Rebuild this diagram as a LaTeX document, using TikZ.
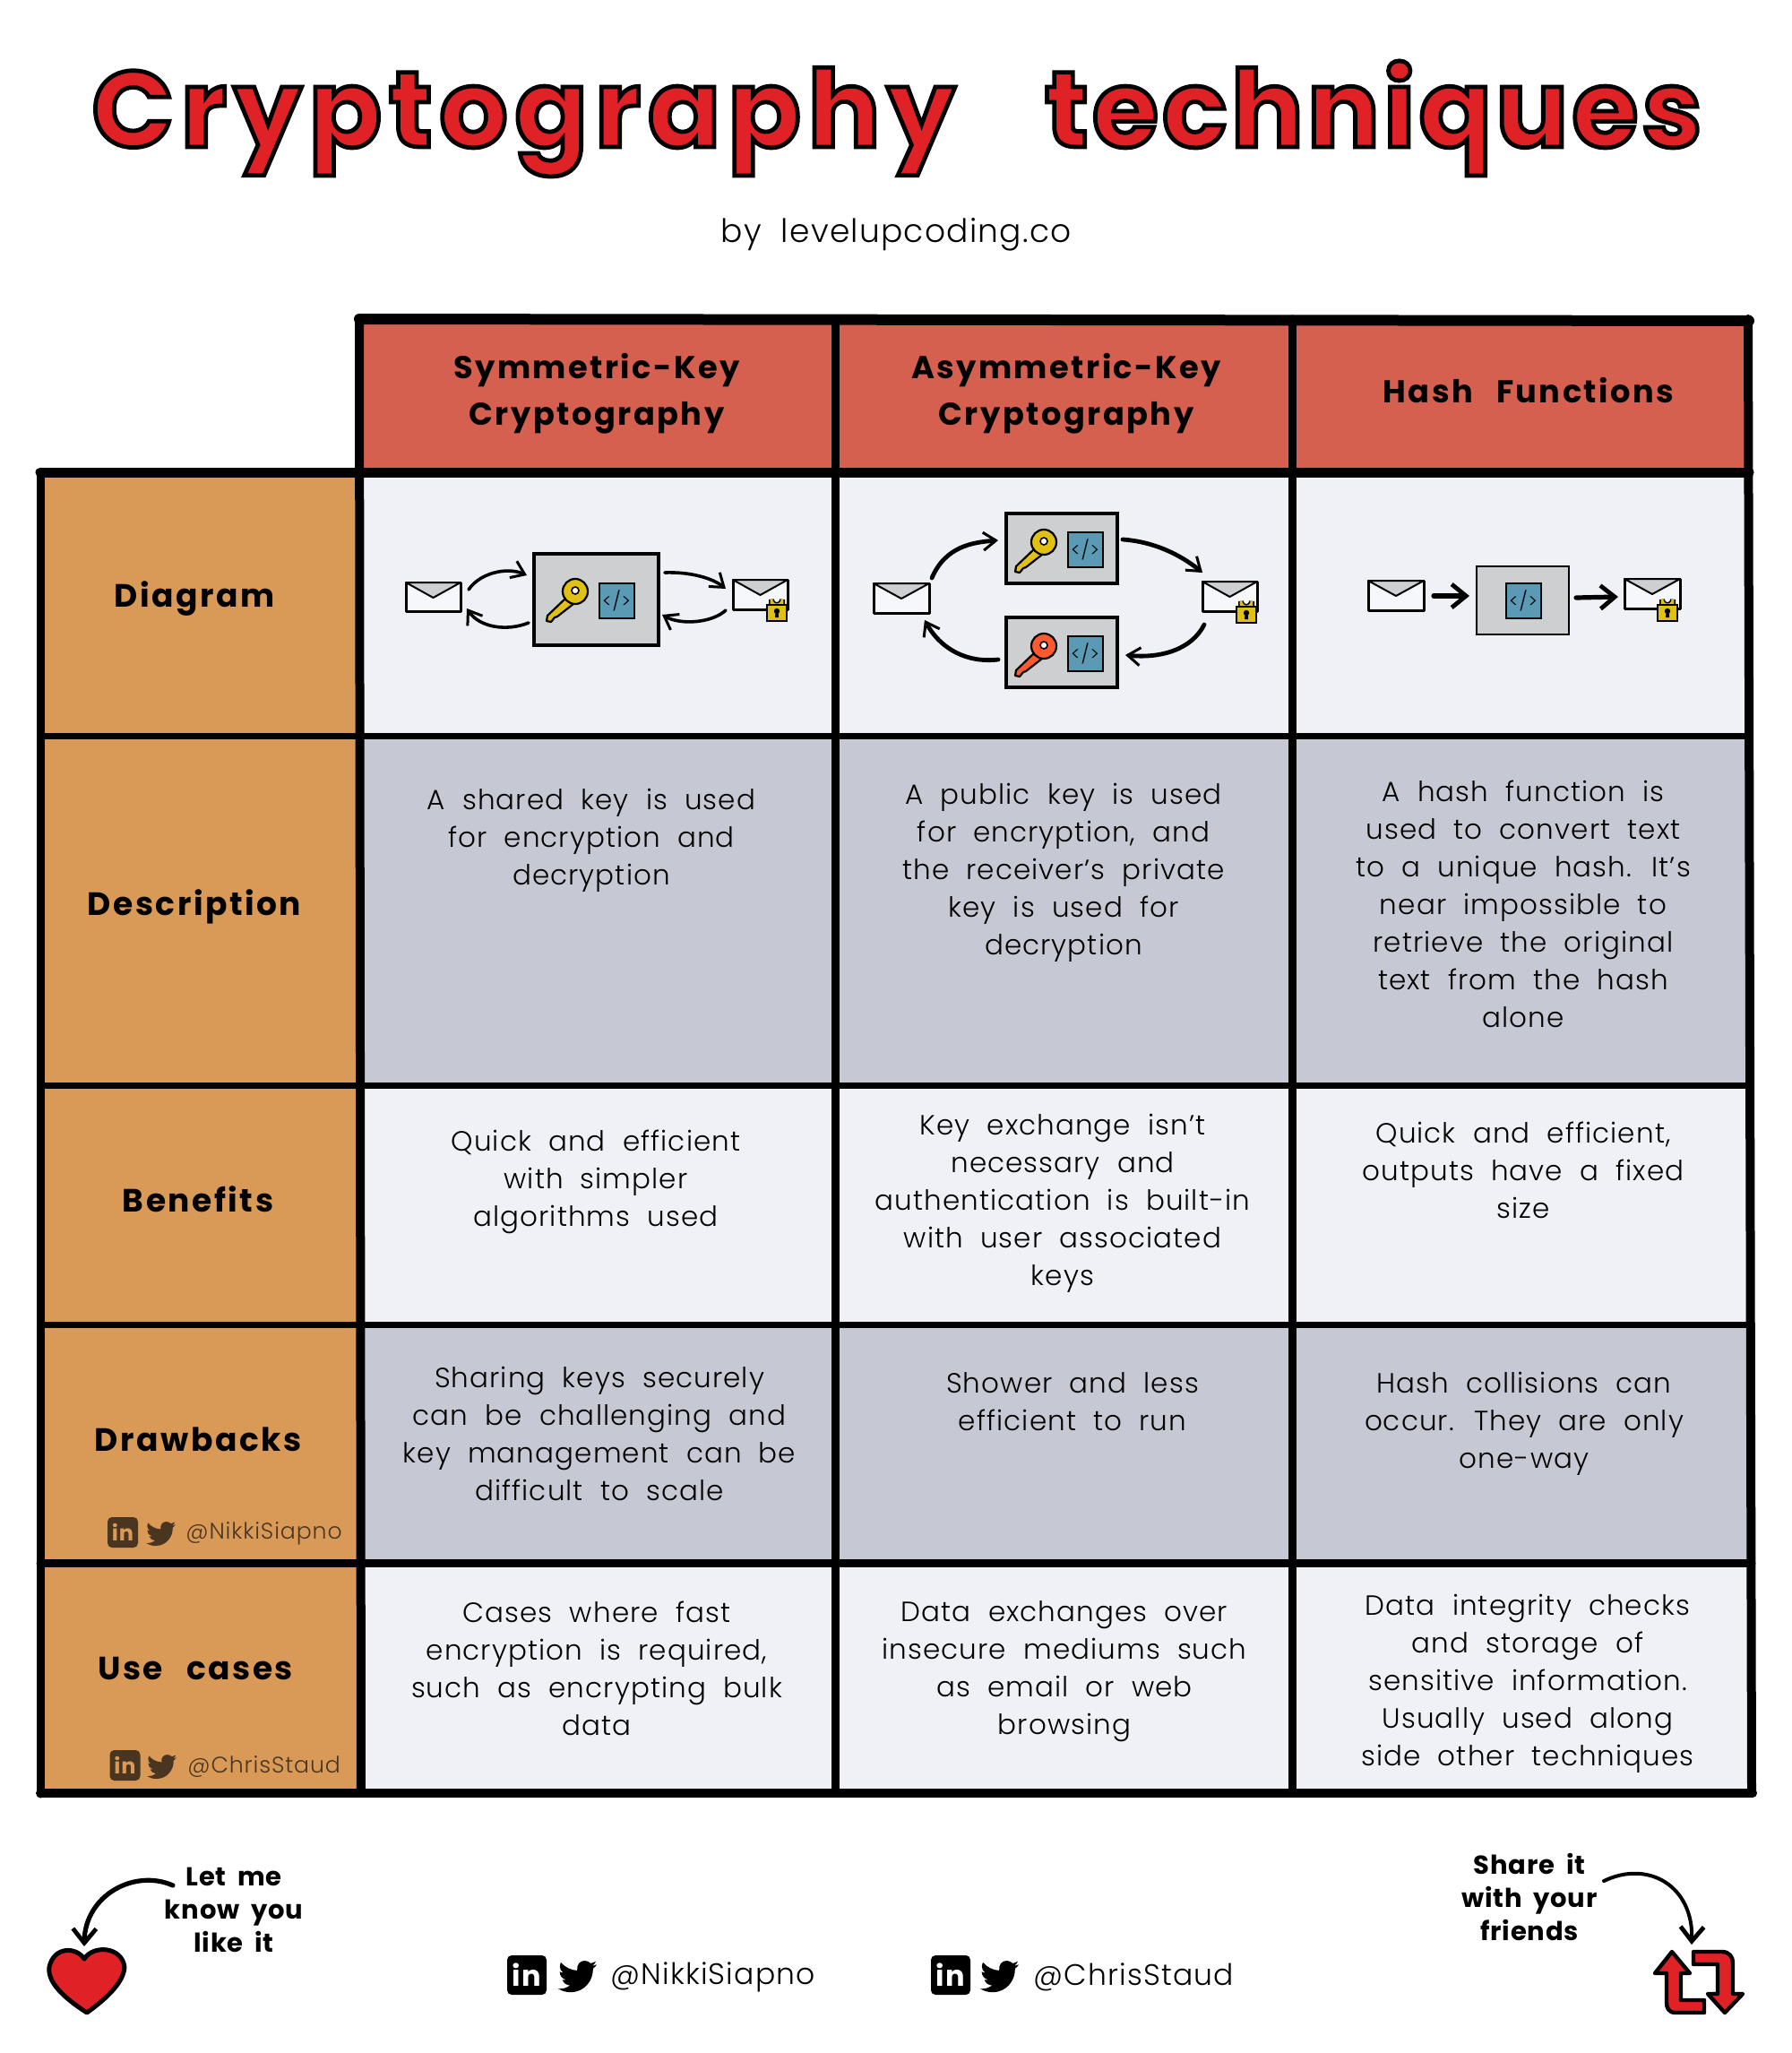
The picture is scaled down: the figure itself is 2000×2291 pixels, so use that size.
\documentclass[tikz,border=0pt]{standalone}
\usepackage{fontspec}
\usetikzlibrary{arrows.meta}
\setmainfont{Poppins}[UprightFont=* Light,BoldFont=* Bold,WordSpace=2,LetterSpace=3.5]
\newfontfamily\headf{Poppins}[UprightFont=* Bold,WordSpace=2.6,LetterSpace=7]
\newfontfamily\footf{Poppins}[UprightFont=* Bold,WordSpace=1.8,LetterSpace=3]
\newfontfamily\titlea{Poppins}[UprightFont=* Bold,FakeBold=4,LetterSpace=6.5]
\newfontfamily\titleb{Poppins}[UprightFont=* Bold,FakeBold=4,LetterSpace=3.5]
\definecolor{hdr}{HTML}{D66050}
\definecolor{side}{HTML}{D99A58}
\definecolor{lite}{HTML}{EFF1F7}
\definecolor{dark}{HTML}{C6C9D3}
\definecolor{boxg}{HTML}{CDCFD1}
\definecolor{scr}{HTML}{5A9AB5}
\definecolor{ylw}{HTML}{E0C010}
\definecolor{redd}{HTML}{E02226}
\definecolor{orng}{HTML}{FF5A2D}
\definecolor{brwn}{HTML}{4A3620}
\definecolor{envw}{HTML}{F6F7FB}
\tikzset{
  x=0.5pt,y=-0.5pt,
  body/.style={font=\fontsize{15.5}{21}\selectfont,align=center,inner sep=0pt,text=black},
  rowlab/.style={font=\headf\fontsize{18}{21}\selectfont,inner sep=0pt},
  colhd/.style={font=\headf\fontsize{17.6}{26}\selectfont,align=center,inner sep=0pt},
  tiny handle/.style={font=\fontsize{12.6}{14}\selectfont,inner sep=0pt,text=brwn},
  big handle/.style={font=\fontsize{16.5}{20}\selectfont,inner sep=0pt},
  foot/.style={font=\footf\fontsize{14.5}{18.5}\selectfont,align=center,inner sep=0pt},
  grid/.style={draw=black,line cap=round,line join=round},
  hand/.style={draw=black,line cap=round,-{Straight Barb[length=7pt,width=10pt,line width=1.5pt]}},
  hand big/.style={draw=black,line cap=round,line width=2.6pt,-{Straight Barb[length=8pt,width=13pt,line width=2.4pt]}},
  outl/.style={draw=black,line width=1.5pt,line join=round},
}
\newcommand{\envel}[4]{%
  \filldraw[outl,fill=envw] (#1,#2) rectangle ++(#3,#4);
  \filldraw[draw=black,line width=1pt,fill=boxg,line join=round] (#1,#2) -- ++(#3,0) -- ++(-#3/2,17) -- cycle;}
\newcommand{\padlock}[2]{%
  \draw[draw=black,line width=3pt] (#1-6,#2+13) -- (#1-6,#2+6) arc[start angle=180,end angle=0,radius=6] -- (#1+6,#2+13);
  \draw[draw=ylw,line width=1.4pt] (#1-6,#2+13) -- (#1-6,#2+6) arc[start angle=180,end angle=0,radius=6] -- (#1+6,#2+13);
  \filldraw[draw=black,line width=.8pt,fill=ylw] (#1-11,#2+12) rectangle (#1+11,#2+30);
  \fill[black] (#1,#2+19) circle[radius=3.2] (#1-1.5,#2+19) -- (#1+1.5,#2+19) -- (#1+2,#2+26) -- (#1-2,#2+26) -- cycle;}
\newcommand{\keyicon}[3]{%
  \begin{scope}[shift={(#1,#2)}]
    \filldraw[draw=black,line width=1.1pt,fill=#3,line join=round] (-9,6) -- (-31,27) -- (-32,33) -- (-27,34) -- (-23,29) -- (-20,28) -- (3,10) -- cycle;
    \filldraw[draw=black,line width=1.1pt,fill=#3] (0,0) ellipse[x radius=14,y radius=14];
    \filldraw[draw=black,line width=.8pt,fill=white] (0,-1) circle[radius=4];
  \end{scope}}
\newcommand{\screenicon}[3]{%
  \node[draw=black,line width=1pt,fill=scr,minimum width=19.5pt,minimum height=19.5pt,inner sep=0pt,font=\fontsize{10.5}{12}\selectfont,text=black] (#3) at (#1,#2) {</>};}
\newcommand{\inicon}[7]{%
  \node[fill=#3,rounded corners=2.5pt,minimum width=#6pt,minimum height=#6pt,inner sep=0pt,text=#4,font=\bfseries\fontsize{#7}{#6}\selectfont] (#5) at (#1,#2) {in};}
\newcommand{\bird}[4]{%
  \begin{scope}[shift={(#1,#2)},scale=#3]
    \fill[#4] (23.95,4.57) .. controls (23.1,4.95) and (22.1,5.22) .. (21.13,5.35) .. controls (22.2,4.7) and (22.9,3.7) .. (23.29,2.62) .. controls (22.34,3.18) and (21.29,3.58) .. (20.16,3.81) .. controls (18.3,1.9) and (14.6,1.5) .. (12.8,3.9) .. controls (11.9,5.1) and (11.5,6.8) .. (11.78,8.29) .. controls (7.69,8.095) and (4.067,6.13) .. (1.64,3.162) .. controls (1.22,3.9) and (.974,4.75) .. (.974,5.637) .. controls (.974,7.35) and (1.84,8.85) .. (3.16,9.73) .. controls (2.36,9.7) and (1.6,9.5) .. (.93,9.12) -- (.93,9.18) .. controls (.93,11.5) and (2.6,13.55) .. (4.88,14) .. controls (4.15,14.2) and (3.4,14.23) .. (2.66,14.09) .. controls (3.3,16.1) and (5.15,17.46) .. (7.27,17.5) .. controls (5.55,18.85) and (3.45,19.6) .. (1.17,19.6) .. controls (.78,19.6) and (.39,19.58) .. (0,19.54) .. controls (2.2,20.95) and (4.8,21.75) .. (7.56,21.75) .. controls (16.61,21.75) and (21.55,14.25) .. (21.55,7.76) .. controls (21.55,7.55) and (21.55,7.34) .. (21.54,7.13) .. controls (22.5,6.45) and (23.33,5.58) .. (23.95,4.57) -- cycle;
  \end{scope}}
\begin{document}
\begin{tikzpicture}
\useasboundingbox (0,0) rectangle (2000,2291);
\fill[white] (0,0) rectangle (2000,2291);
% title
\node[inner sep=0pt,anchor=base] (title) at (1001,164) {\fontsize{60}{60}\selectfont
  \color{redd}\special{pdf:code 0 0 0 RG}\titlea Cryptography\hspace{50pt}\titleb techniques};
\node[inner sep=0pt,font=\fontsize{18}{22}\selectfont] (byline) at (1000,262) {by levelupcoding.co};
% cell fills
\fill[hdr] (401,356) rectangle (932,527);
\fill[hdr] (932,356) rectangle (1442,527);
\fill[hdr] (1442,356) rectangle (1951,527);
\fill[side] (45,527) rectangle (402,2001);
\fill[lite] (402,527) rectangle (1953,821);
\fill[dark] (402,821) rectangle (1954,1211);
\fill[lite] (402,1211) rectangle (1954,1478);
\fill[dark] (402,1478) rectangle (1955,1744);
\fill[lite] (402,1744) rectangle (1955,2001);
% grid lines
\draw[grid,line width=6pt] (401,356) -- (1952,358);
\draw[grid,line width=5.5pt] (45,527) -- (1952,527);
\draw[grid,line width=3.5pt] (45,821) -- (1953,821);
\draw[grid,line width=3.5pt] (45,1211) -- (1954,1211);
\draw[grid,line width=3.5pt] (45,1478) -- (1955,1478);
\draw[grid,line width=4.5pt] (45,1744) -- (1955,1744);
\draw[grid,line width=5pt] (45,2001) -- (1956,2001);
\draw[grid,line width=4.5pt] (45,527) -- (45,2002);
\draw[grid,line width=5pt] (401,356) -- (403,2001);
\draw[grid,line width=4.5pt] (932,356) -- (932,2001);
\draw[grid,line width=4.5pt] (1442,356) -- (1442,2001);
\draw[grid,line width=5pt] (1951,356) -- (1955,2001);
% headers
\node[colhd] (h1) at (666,439) {Symmetric-Key\\Cryptography};
\node[colhd] (h2) at (1190,439) {Asymmetric-Key\\Cryptography};
\node[colhd] (h3) at (1706,436) {Hash Functions};
% row labels
\node[rowlab] (r1) at (217,668) {Diagram};
\node[rowlab] (r2) at (217,1012) {Description};
\node[rowlab] (r3) at (221,1338) {Benefits};
\node[rowlab] (r4) at (221,1606) {Drawbacks};
\node[rowlab] (r5) at (218,1862) {Use cases};
% symmetric diagram
\envel{453}{650}{61}{32}
\envel{818}{647}{61}{33}
\padlock{867}{663}
\node[draw=black,line width=1.6pt,fill=boxg,minimum width=69.5pt,minimum height=51pt,inner sep=0pt] (sbox) at (665.5,669) {};
\keyicon{642}{660}{ylw}
\screenicon{688}{670}{sscr}
\coordinate (sa1) at (523,658); \coordinate (sa2) at (588,642);
\coordinate (sb1) at (590,695); \coordinate (sb2) at (521,679);
\coordinate (sc1) at (742,639); \coordinate (sc2) at (810,657);
\coordinate (sd1) at (810,681); \coordinate (sd2) at (739,686);
\draw[hand,line width=1.8pt] (sa1) .. controls (535,640) and (565,632) .. (sa2);
\draw[hand,line width=1.8pt] (sb1) .. controls (565,705) and (535,700) .. (sb2);
\draw[hand,line width=1.8pt] (sc1) .. controls (770,638) and (795,645) .. (sc2);
\draw[hand,line width=1.8pt] (sd1) .. controls (795,695) and (760,698) .. (sd2);
% asymmetric diagram
\envel{975}{651}{62}{33}
\envel{1342}{649}{61}{33}
\padlock{1391}{665}
\node[draw=black,line width=1.6pt,fill=boxg,minimum width=62pt,minimum height=39pt,inner sep=0pt] (abox1) at (1185,612) {};
\node[draw=black,line width=1.6pt,fill=boxg,minimum width=62pt,minimum height=39pt,inner sep=0pt] (abox2) at (1185,728) {};
\keyicon{1165}{605}{ylw}
\keyicon{1165}{721}{orng}
\screenicon{1211}{613}{ascr1}
\screenicon{1211}{729}{ascr2}
\coordinate (aa1) at (1040,645); \coordinate (aa2) at (1114,603);
\coordinate (ab1) at (1253,602); \coordinate (ab2) at (1342,639);
\coordinate (ac1) at (1344,697); \coordinate (ac2) at (1256,731);
\coordinate (ad1) at (1114,736); \coordinate (ad2) at (1032,692);
\draw[hand,line width=2.4pt] (aa1) .. controls (1055,610) and (1085,605) .. (aa2);
\draw[hand,line width=2.4pt] (ab1) .. controls (1295,605) and (1325,625) .. (ab2);
\draw[hand,line width=2.4pt] (ac1) .. controls (1330,725) and (1295,735) .. (ac2);
\draw[hand,line width=2.4pt] (ad1) .. controls (1080,740) and (1050,725) .. (ad2);
% hash diagram
\envel{1527}{648}{62}{33}
\envel{1813}{646}{62}{33}
\padlock{1861}{663}
\node[draw=black,line width=1.4pt,fill=boxg,minimum width=51.5pt,minimum height=38pt,inner sep=0pt] (hbox) at (1699.5,670) {};
\screenicon{1700}{670}{hscr}
\coordinate (ha1) at (1600,665); \coordinate (ha2) at (1640,665);
\coordinate (hb1) at (1759,667); \coordinate (hb2) at (1806,666);
\draw[hand big] (ha1) -- (ha2);
\draw[hand big] (hb1) -- (hb2);
% body text
\node[body] (t11) at (660,938) {A shared key is used\\for encryption and\\decryption};
\node[body] (t12) at (1187,974) {A public key is used\\for encryption, and\\the receiver's private\\key is used for\\decryption};
\node[body] (t13) at (1700,1009) {A hash function is\\used to convert text\\to a unique hash. It's\\near impossible to\\retrieve the original\\text from the hash\\alone};
\node[body] (t21) at (665,1319) {Quick and efficient\\with simpler\\algorithms used};
\node[body] (t22) at (1186,1343) {Key exchange isn't\\necessary and\\authentication is built-in\\with user associated\\keys};
\node[body] (t23) at (1700,1306) {Quick and efficient,\\outputs have a fixed\\size};
\node[body] (t31) at (669,1600) {Sharing keys securely\\can be challenging and\\key management can be\\difficult to scale};
\node[body] (t32) at (1197,1564) {Shower and less\\efficient to run};
\node[body] (t33) at (1701,1589) {Hash collisions can\\occur. They are only\\one-way};
\node[body] (t41) at (666,1862) {Cases where fast\\encryption is required,\\such as encrypting bulk\\data};
\node[body] (t42) at (1188,1865) {Data exchanges over\\insecure mediums such\\as email or web\\browsing};
\node[body] (t43) at (1705,1879) {Data integrity checks\\and storage of\\sensitive information.\\Usually used along\\side other techniques};
% small handles
\inicon{137}{1710}{brwn}{side}{in1}{17}{12}
\bird{163}{1695}{1.38}{brwn}
\node[tiny handle,anchor=west] (hn1) at (207,1711) {@NikkiSiapno};
\inicon{139.5}{1970}{brwn}{side}{in2}{17}{12}
\bird{164}{1955}{1.38}{brwn}
\node[tiny handle,anchor=west] (hn2) at (209,1971) {@ChrisStaud};
% footer
\node[foot] (like) at (261,2131) {Let me\\know you\\like it};
\filldraw[draw=black,line width=2.5pt,fill=redd,line join=round] (94,2186) .. controls (85,2172) and (60,2172) .. (55,2195) .. controls (52,2215) and (80,2235) .. (97,2246) .. controls (112,2235) and (138,2215) .. (139,2195) .. controls (136,2172) and (104,2170) .. cycle;
\coordinate (la) at (193,2104); \coordinate (lb) at (94,2172);
\draw[hand big] (la) .. controls (150,2085) and (95,2115) .. (lb);
\inicon{588}{2204}{black}{white}{in3}{22}{16}
\bird{623}{2184}{1.8}{black}
\node[big handle,anchor=west] (hn3) at (681,2206) {@NikkiSiapno};
\inicon{1061}{2204}{black}{white}{in4}{22}{16}
\bird{1094}{2184}{1.8}{black}
\node[big handle,anchor=west] (hn4) at (1153,2206) {@ChrisStaud};
\node[foot] (share) at (1707,2117) {Share it\\with your\\friends};
\coordinate (sha) at (1790,2099); \coordinate (shb) at (1888,2170);
\draw[hand big,line width=2pt] (sha) .. controls (1840,2075) and (1890,2105) .. (shb);
% retweet icon
\filldraw[draw=black,line width=2.2pt,fill=redd,line join=round] (1866,2178) -- (1886,2202) -- (1876,2202) -- (1876,2232) -- (1902,2232) -- (1902,2246) -- (1870,2246) .. controls (1862,2246) and (1860,2240) .. (1860,2235) -- (1860,2202) -- (1847,2202) -- cycle;
\filldraw[draw=black,line width=2.2pt,fill=redd,line join=round] (1890,2178) -- (1922,2178) .. controls (1930,2178) and (1934,2184) .. (1934,2190) -- (1934,2225) -- (1945,2225) -- (1925,2246) -- (1906,2225) -- (1917,2225) -- (1917,2192) -- (1890,2192) -- cycle;
\end{tikzpicture}
\end{document}
